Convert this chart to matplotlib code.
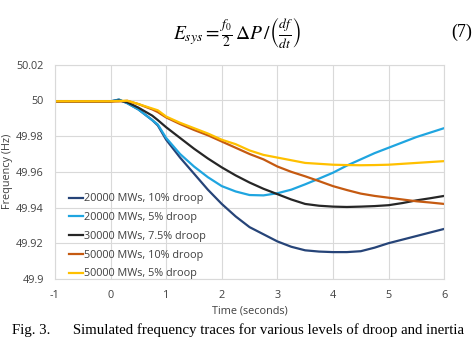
import numpy as np
import matplotlib.pyplot as plt

plt.rcParams['mathtext.fontset'] = 'stix'
plt.rcParams['axes.unicode_minus'] = False

# time axis (seconds) and traces (Hz)
t = [-1, 0, 0.15, 0.3, 0.5, 0.75, 0.85, 1.0, 1.25, 1.5, 1.75, 2.0, 2.25, 2.5,
     2.75, 3.0, 3.25, 3.5, 3.75, 4.0, 4.25, 4.5, 4.75, 5.0, 5.25, 5.5, 5.75, 6.0]

f_20k_10 = [49.9995, 49.9995, 50.0005, 49.9985, 49.995, 49.989, 49.986, 49.978,
            49.968, 49.959, 49.950, 49.942, 49.935, 49.929, 49.925, 49.921,
            49.918, 49.916, 49.9153, 49.915, 49.915, 49.9155, 49.9175, 49.920,
            49.922, 49.924, 49.926, 49.928]
f_20k_5 = [49.9995, 49.9995, 50.0005, 49.9985, 49.995, 49.989, 49.9865, 49.979,
           49.970, 49.963, 49.957, 49.952, 49.949, 49.947, 49.9468, 49.948,
           49.950, 49.953, 49.9562, 49.9595, 49.9635, 49.967, 49.9705, 49.9735,
           49.9765, 49.9795, 49.982, 49.9845]
f_30k_75 = [49.9995, 49.9995, 50.0, 49.999, 49.996, 49.9915, 49.989, 49.985,
            49.979, 49.973, 49.9675, 49.9625, 49.958, 49.954, 49.9505, 49.9475,
            49.9445, 49.942, 49.941, 49.9405, 49.9403, 49.9405, 49.9408, 49.9413,
            49.9425, 49.944, 49.9452, 49.9465]
f_50k_10 = [49.9994, 49.9994, 49.9995, 49.9998, 49.998, 49.995, 49.9935, 49.9905,
            49.9868, 49.9835, 49.9805, 49.977, 49.9735, 49.970, 49.967, 49.963,
            49.960, 49.9575, 49.9548, 49.952, 49.9498, 49.9478, 49.9465, 49.9455,
            49.9445, 49.9435, 49.9428, 49.942]
f_50k_5 = [49.9996, 49.9996, 49.9997, 49.9999, 49.998, 49.9955, 49.9945, 49.991,
           49.9875, 49.9845, 49.9815, 49.978, 49.9755, 49.972, 49.9695, 49.968,
           49.9665, 49.965, 49.9645, 49.964, 49.9638, 49.9637, 49.9638, 49.964,
           49.9645, 49.965, 49.9655, 49.966]

labels = ['20000 MWs, 10% droop', '20000 MWs, 5% droop', '30000 MWs, 7.5% droop',
          '50000 MWs, 10% droop', '50000 MWs, 5% droop']
colors = ['#264478', '#1fa5e0', '#262626', '#c55a11', '#ffc000']

xticks = [-1, 0, 1, 2, 3, 4, 5, 6]
yticks = [49.9, 49.92, 49.94, 49.96, 49.98, 50, 50.02]
ytick_labels = ['49.9', '49.92', '49.94', '49.96', '49.98', '50', '50.02']

fig = plt.figure(figsize=(4.74, 3.43), dpi=100)
ax = fig.add_axes([0.116, 0.187, 0.821, 0.624])

series = [f_20k_10, f_20k_5, f_30k_75, f_50k_10, f_50k_5]
for y, c, lab in zip(series, colors, labels):
    ax.plot(t, y, color=c, lw=1.6, label=lab, solid_joinstyle='round')

ax.set_xlim(-1, 6)
ax.set_ylim(49.9, 50.02)
ax.set_xticks(xticks)
ax.set_yticks(yticks)
ax.set_yticklabels(ytick_labels)
ax.grid(True, color='#d9d9d9', lw=0.8)
ax.set_axisbelow(True)
for s in ax.spines.values():
    s.set_color('#d9d9d9')
    s.set_linewidth(0.8)
ax.tick_params(length=0, labelsize=7.8, labelcolor='#404040', pad=8, labelfontfamily='Open Sans')

ax.set_xlabel('Time (seconds)', fontsize=7.8, color='#404040', family='Open Sans', labelpad=3)
fig.text(0.015, 0.50, 'Frequency (Hz)', rotation=90, ha='center', va='center',
         fontsize=7.8, color='#404040', family='Open Sans')

leg = ax.legend(loc='upper left', bbox_to_anchor=(0.025, 0.42), frameon=False,
                handlelength=1.3, handletextpad=0.1, labelspacing=0.72,
                borderaxespad=0, prop={'family': 'Open Sans', 'size': 7.8})
for txt in leg.get_texts():
    txt.set_color('#404040')

# equation and caption
fig.text(0.5, 0.905, r'$E_{sys} = \frac{f_0}{2}\,\Delta P\,/\left(\frac{df}{dt}\right)$',
         ha='center', va='center', fontsize=14)
fig.text(0.953, 0.905, '(7)', ha='left', va='center', fontsize=13, family='Liberation Serif')
fig.text(0.025, 0.038, 'Fig. 3.      Simulated frequency traces for various levels of droop and inertia',
         ha='left', va='center', fontsize=10.7, family='Liberation Serif')

fig.savefig('out.png', dpi=100)
